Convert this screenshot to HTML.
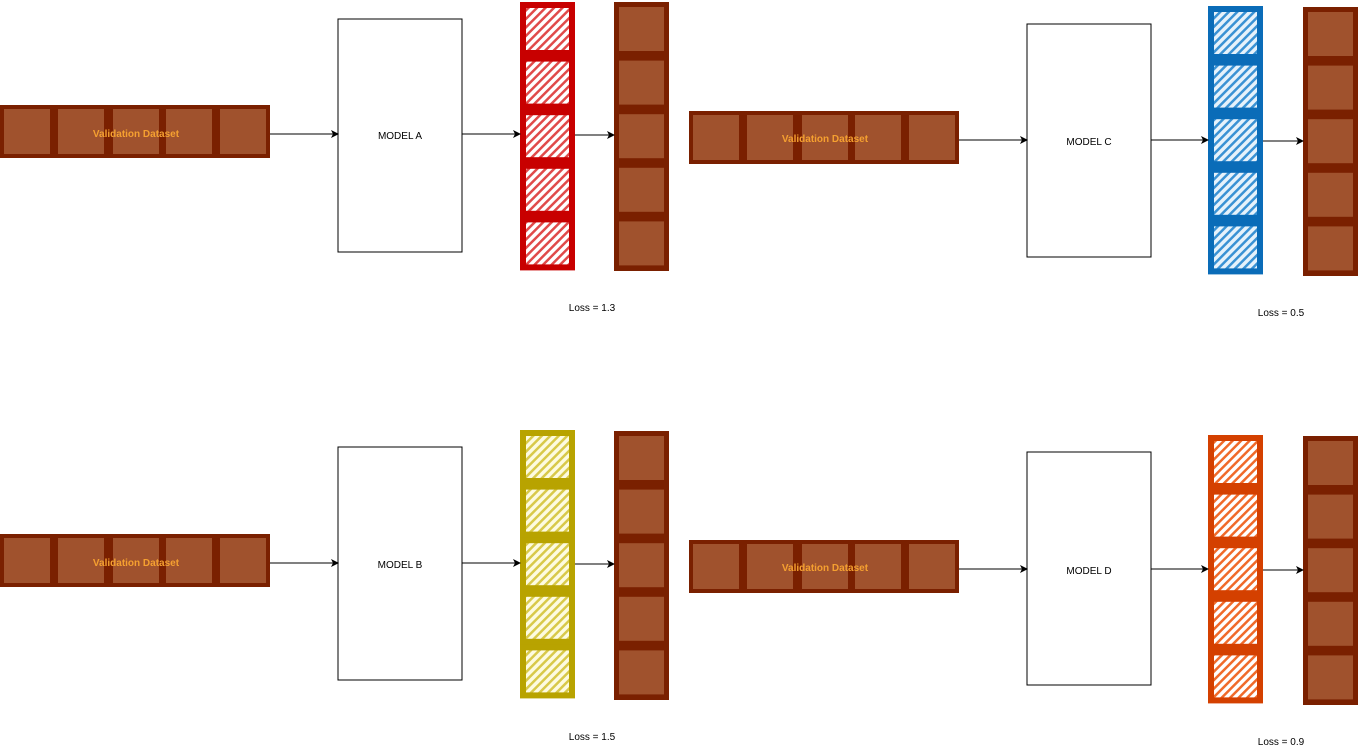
<!DOCTYPE html>
<html><head><meta charset="utf-8"><style>
html,body{margin:0;padding:0;background:#fff;}
svg{display:block;}
text{font-family:"Liberation Sans",Arial,sans-serif;}
</style></head><body>
<svg id="s" width="1358" height="753" viewBox="0 0 1358 753" xmlns="http://www.w3.org/2000/svg">
<defs>
<marker id="ar" markerWidth="8" markerHeight="8" refX="7" refY="4" orient="auto" markerUnits="userSpaceOnUse"><path d="M0,0 L8,4 L0,8 L2,4 Z" fill="#000"/></marker>
<pattern id="hr" width="6" height="6" patternUnits="userSpaceOnUse" patternTransform="rotate(45)"><rect width="6" height="6" fill="#fff"/><rect width="2.5" height="6" fill="#e04a4a"/></pattern>
<pattern id="hb" width="6" height="6" patternUnits="userSpaceOnUse" patternTransform="rotate(45)"><rect width="6" height="6" fill="#e6f2fb"/><rect width="2.5" height="6" fill="#3a92d4"/></pattern>
<pattern id="hy" width="6" height="6" patternUnits="userSpaceOnUse" patternTransform="rotate(45)"><rect width="6" height="6" fill="#fdfbe0"/><rect width="2.5" height="6" fill="#d8c94a"/></pattern>
<pattern id="ho" width="6" height="6" patternUnits="userSpaceOnUse" patternTransform="rotate(45)"><rect width="6" height="6" fill="#fff"/><rect width="2.5" height="6" fill="#f06a2a"/></pattern>
</defs>
<g id="g"></g>
<text x="136" y="137" font-size="10" font-weight="bold" fill="#f5a030" text-anchor="middle">Validation Dataset</text>
<text x="825" y="142" font-size="10" font-weight="bold" fill="#f5a030" text-anchor="middle">Validation Dataset</text>
<text x="136" y="566" font-size="10" font-weight="bold" fill="#f5a030" text-anchor="middle">Validation Dataset</text>
<text x="825" y="571" font-size="10" font-weight="bold" fill="#f5a030" text-anchor="middle">Validation Dataset</text>
<text x="400" y="139" font-size="10" text-anchor="middle">MODEL A</text>
<text x="1089" y="145" font-size="10" text-anchor="middle">MODEL C</text>
<text x="400" y="568" font-size="10" text-anchor="middle">MODEL B</text>
<text x="1089" y="574" font-size="10" text-anchor="middle">MODEL D</text>
<text x="592" y="311" font-size="10" text-anchor="middle">Loss = 1.3</text>
<text x="1281" y="316" font-size="10" text-anchor="middle">Loss = 0.5</text>
<text x="592" y="740" font-size="10" text-anchor="middle">Loss = 1.5</text>
<text x="1281" y="745" font-size="10" text-anchor="middle">Loss = 0.9</text>
</svg>
<script>
var g=document.getElementById('g'),h='';
function bar(x,y){h+='<rect x="'+x+'" y="'+y+'" width="270" height="53" fill="#7a2000"/>';
 var xs=[4,58,113,166,220];xs.forEach(function(c){h+='<rect x="'+(x+c)+'" y="'+(y+4)+'" width="46" height="45" fill="#a0522d"/>';});}
function col(x,y){h+='<rect x="'+x+'" y="'+y+'" width="55" height="269" fill="#7a2000"/>';
 for(var i=0;i<5;i++)h+='<rect x="'+(x+5)+'" y="'+(y+5+i*53.6)+'" width="45" height="44" fill="#a0522d"/>';}
function hcol(x,y,st,p){for(var i=0;i<5;i++)h+='<rect x="'+(x+3)+'" y="'+(y+3+i*53.6)+'" width="49" height="48" fill="url(#'+p+')" stroke="'+st+'" stroke-width="6"/>';}
function box(x,y){h+='<rect x="'+x+'" y="'+y+'" width="124" height="233" fill="#fff" stroke="#000" stroke-width="1"/>';}
function ar(x1,x2,y){h+='<line x1="'+x1+'" y1="'+y+'" x2="'+x2+'" y2="'+y+'" stroke="#000" stroke-width="1" marker-end="url(#ar)"/>';}
function quad(dx,dy,bx,by,mx,my,hx,hy,ox,oy,st,p){
 bar(bx,by);box(mx,my);hcol(hx,hy,st,p);col(ox,oy);
 var cy=by+29;ar(bx+270,mx,cy);ar(mx+124,hx,cy);ar(hx+55,ox,cy+1);}
quad(0,0,0,105,338,19,520,2,614,2,'#c80000','hr');
quad(0,0,689,111,1027,24,1208,6,1303,7,'#0a6cb8','hb');
quad(0,0,0,534,338,447,520,430,614,431,'#b8a300','hy');
quad(0,0,689,540,1027,452,1208,435,1303,436,'#d44000','ho');
g.innerHTML=h;
</script>
</body></html>
